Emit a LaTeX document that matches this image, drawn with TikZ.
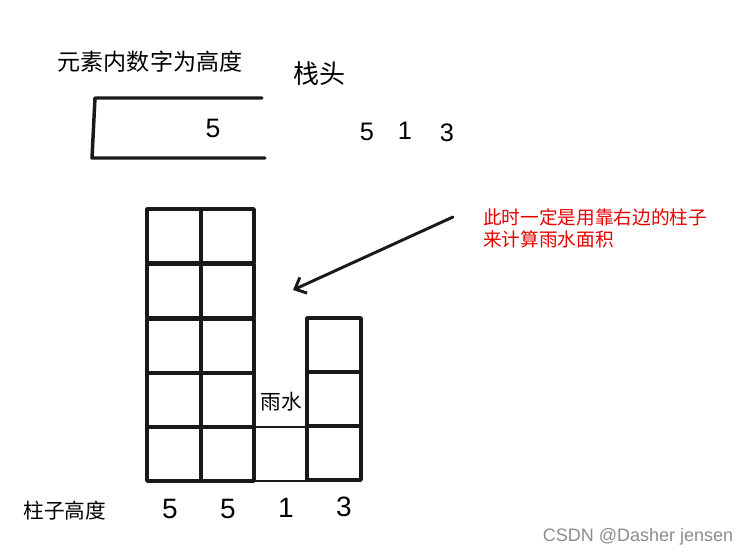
\documentclass[tikz,border=0pt]{standalone}
\usepackage{fontspec}
\setmainfont{Liberation Sans}
\newfontfamily\cjk{Noto Sans CJK SC}
\usetikzlibrary{arrows.meta}

\begin{document}
\begin{tikzpicture}[x=0.75pt,y=-0.75pt]
    \useasboundingbox (0,0) rectangle (751,556);
    \tikzset{wall/.style={line width=2.6pt, color=black!90, line cap=round, line join=round}}

    % Stack Box
    \draw[wall] (262,98) -- (95,98) -- (92,158) -- (265,158);
    \node[font=\fontsize{20}{20}\selectfont] (top) at (213,128) {5};

    % Stack Labels
    \node[font=\cjk\fontsize{17.3}{17.3}\selectfont] (hint) at (150,62) {元素内数字为高度};
    \node[font=\cjk\fontsize{19.5}{19.5}\selectfont] (head) at (319,74) {栈头};
    \node[font=\fontsize{19}{19}\selectfont] (s1) at (367,132) {5};
    \node[font=\fontsize{19}{19}\selectfont] (s2) at (405,131) {1};
    \node[font=\fontsize{19}{19}\selectfont] (s3) at (447,133) {3};

    % Draw Columns
    \foreach \y in {209,264,319,373,427} {
        \draw[wall] (147,\y) rectangle (201,\y+54);
        \draw[wall] (201,\y) rectangle (254,\y+54);
    }
    \draw[wall, line width=2pt] (254,427) rectangle (307,481);
    \foreach \y in {318,372,426} {
        \draw[wall] (307,\y) rectangle (361,\y+54);
    }
    \node[font=\cjk\fontsize{15.5}{15.5}\selectfont] (rain) at (281,402) {雨水};

    % Arrow and Note
    \coordinate (tail) at (453,217);
    \coordinate (tip) at (293,290);
    \draw[wall, line width=2.2pt, -{Straight Barb[length=7pt,width=13pt]}] (tail) -- (tip);
    \node[font=\cjk\fontsize{14}{17}\selectfont, text=red!90!black, align=left, anchor=north west, inner sep=0pt] (note) at (483,208) {此时一定是用靠右边的柱子\\来计算雨水面积};

    % Bottom Labels
    \node[font=\cjk\fontsize{15.5}{15.5}\selectfont] (hlabel) at (65,511) {柱子高度};
    \node[font=\fontsize{21}{21}\selectfont] (h1) at (170,509) {5};
    \node[font=\fontsize{21}{21}\selectfont] (h2) at (228,509) {5};
    \node[font=\fontsize{21}{21}\selectfont] (h3) at (286,508) {1};
    \node[font=\fontsize{21}{21}\selectfont] (h4) at (344,507) {3};

    % Watermark
    \node[font=\fontsize{13.5}{13.5}\selectfont, text=black!45, anchor=east] (mark) at (738,537) {CSDN @Dasher jensen};
\end{tikzpicture}
\end{document}
